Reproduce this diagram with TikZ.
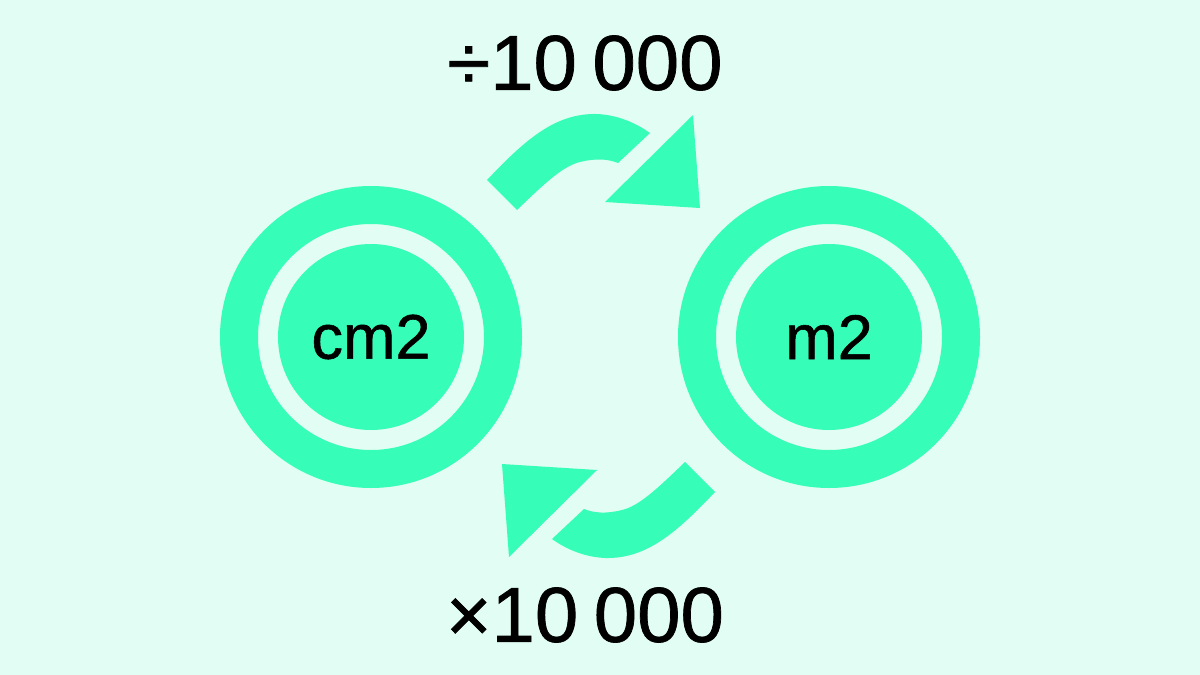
\documentclass[tikz,border=0pt]{standalone}
\usepackage{fontspec}
\setmainfont{Liberation Sans}
\newfontfamily\heavyfont{Liberation Sans}[FakeBold=0.9]
\definecolor{bg}{RGB}{226,253,243}
\definecolor{mint}{RGB}{54,253,183}
\tikzset{
  unitdisk/.style={circle, fill=mint, minimum size=93pt, inner sep=0pt, font=\heavyfont\fontsize{31.5}{36}\selectfont},
  unitring/.style={draw=mint, line width=19pt},
  oplabel/.style={font=\heavyfont\fontsize{39}{44}\selectfont, inner sep=0pt},
  arrowpart/.style={fill=mint}
}
\newcommand{\curvedarrow}{%
  \fill[arrowpart] (487,180) .. controls (525,140) and (555,113) .. (597,114)
    .. controls (618,115) and (636,123) .. (650,133) -- (618,163)
    .. controls (608,159) and (596,158) .. (580,162)
    .. controls (563,166) and (545,183) .. (517,210) -- cycle;
  \fill[arrowpart] (693,115) -- (700,208) -- (605,202) -- cycle;}
\begin{document}
\begin{tikzpicture}[x=0.5pt,y=-0.5pt]
\fill[bg] (0,0) rectangle (1200,675);
\useasboundingbox (0,0) rectangle (1200,675);

% unit circles
\node[unitdisk] (cm) at (371,337) {cm2};
\node[unitdisk] (m) at (829,337) {m2};
\draw[unitring] (cm.center) circle[radius=66pt];
\draw[unitring] (m.center) circle[radius=66pt];

% labels
\node[oplabel] (div) at (585,63) {÷10\hspace{0.2em}000};
\node[oplabel] (mul) at (585,615) {×10\hspace{0.2em}000};

% curved arrows
\curvedarrow
\begin{scope}[rotate around={180:(601,336)}]
\curvedarrow
\end{scope}
\end{tikzpicture}
\end{document}
